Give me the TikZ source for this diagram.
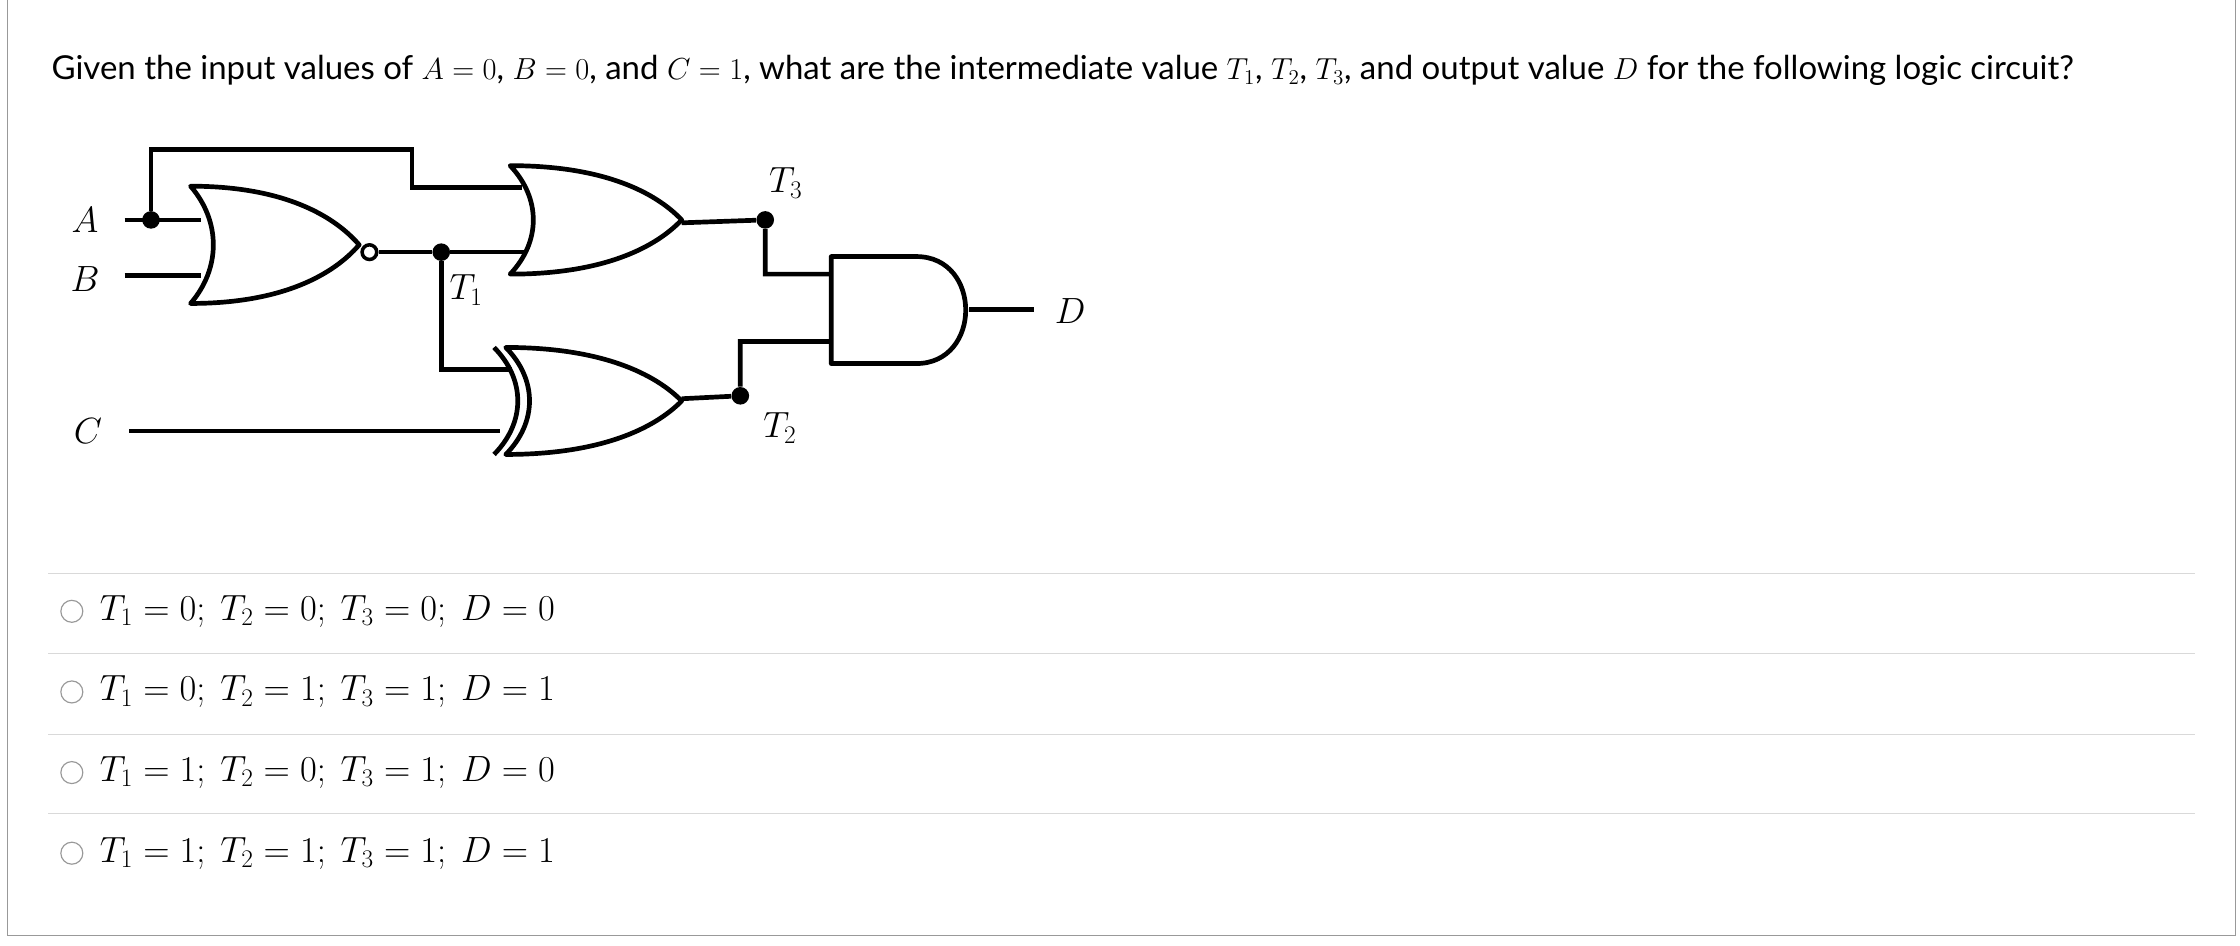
\documentclass[tikz,border=0pt]{standalone}
\usepackage{fontspec}
\setmainfont{Lato}
\newcommand\myor[4]{% L T B X
  \draw[gate] (#1,#2) .. controls ({#1+0.55*(#4-#1)},#2) and ({#1+0.85*(#4-#1)},{#2+0.25*(#3-#2)}) .. (#4,{(#2+#3)/2})
   .. controls ({#1+0.85*(#4-#1)},{#3-0.25*(#3-#2)}) and ({#1+0.55*(#4-#1)},#3) .. (#1,#3)
   .. controls ({#1+0.18*(#4-#1)},{#3-0.3*(#3-#2)}) and ({#1+0.18*(#4-#1)},{#2+0.3*(#3-#2)}) .. (#1,#2) -- cycle;}
\begin{document}
\begin{tikzpicture}[x=1pt,y=-1pt,
  gate/.style={line width=3.2pt,line join=round},
  wire/.style={line width=3.2pt},
  dot/.style={circle,fill=black,inner sep=0pt,minimum size=12pt},
  lbl/.style={font=\fontsize{24}{26}\selectfont},
  sep/.style={draw=black!15,line width=0.8pt},
  radio/.style={circle,draw=black!40,line width=0.8pt,minimum size=15pt,inner sep=0pt}]
\useasboundingbox (0,0) rectangle (1528,645);
\draw[black!40,line width=1pt] (5,-5) -- (5,638) -- (1525,638) -- (1525,-5);
\node[anchor=west,inner sep=0pt,font=\fontsize{22.5}{26}\selectfont] (q) at (35,48)
 {Given the input values of $A=0$, $B=0$, and $C=1$, what are the intermediate value $T_1$, $T_2$, $T_3$, and output value $D$ for the following logic circuit?};
% gates
\myor{130}{127}{207}{245}
\node[circle,draw,line width=2.4pt,minimum size=10pt,inner sep=0pt] (bub) at (252,172) {};
\myor{348}{113}{187}{465}
\myor{345}{237}{310}{465}
\draw[gate] (337,237) .. controls ({337+0.18*120},{237+0.3*73}) and ({337+0.18*120},{310-0.3*73}) .. (337,310);
\draw[gate] (567,175) -- (625,175) .. controls (670,175) and (670,248) .. (625,248) -- (567,248) -- cycle;
% pins
\coordinate (ain) at (85,150); \coordinate (bin) at (85,188); \coordinate (cin) at (88,294);
\node[dot] (da) at (103,150) {};
\node[dot] (dt1) at (301,172) {};
\node[dot] (dt3) at (522,150) {};
\node[dot] (dt2) at (505,270) {};
\coordinate (dout) at (705,211);
\draw[wire] (ain) -- (137,150);
\draw[wire] (bin) -- (137,188);
\draw[wire] (da) |- (281,102) |- (356,128);
\draw[wire] (bub.east) -- (dt1) -- (358,172);
\draw[wire] (dt1) |- (349,252);
\draw[wire] (cin) -- (341,294);
\draw[wire] (465,152) -- (dt3) |- (567,187);
\draw[wire] (465,272) -- (dt2) |- (567,233);
\draw[wire] (661,211) -- (dout);
\node[lbl] (la) at (58,150) {$A$};
\node[lbl] (lb) at (58,190) {$B$};
\node[lbl] (lc) at (60,294) {$C$};
\node[lbl] (ld) at (730,212) {$D$};
\node[lbl] (l1) at (318,198) {$T_1$};
\node[lbl] (l3) at (536,125) {$T_3$};
\node[lbl] (l2) at (532,292) {$T_2$};
% answers
\foreach \y in {391,446,501,555} \draw[sep] (33,\y) -- (1497,\y);
\foreach \y/\t [count=\i] in {417/{$T_1=0;\ T_2=0;\ T_3=0;\ D=0$},472/{$T_1=0;\ T_2=1;\ T_3=1;\ D=1$},527/{$T_1=1;\ T_2=0;\ T_3=1;\ D=0$},582/{$T_1=1;\ T_2=1;\ T_3=1;\ D=1$}}{
  \node[radio] (r\i) at (49,\y) {};
  \node[anchor=west,inner sep=0pt,font=\fontsize{23}{25}\selectfont] (ans\i) at (68,\y) {\t};
}
\end{tikzpicture}
\end{document}
